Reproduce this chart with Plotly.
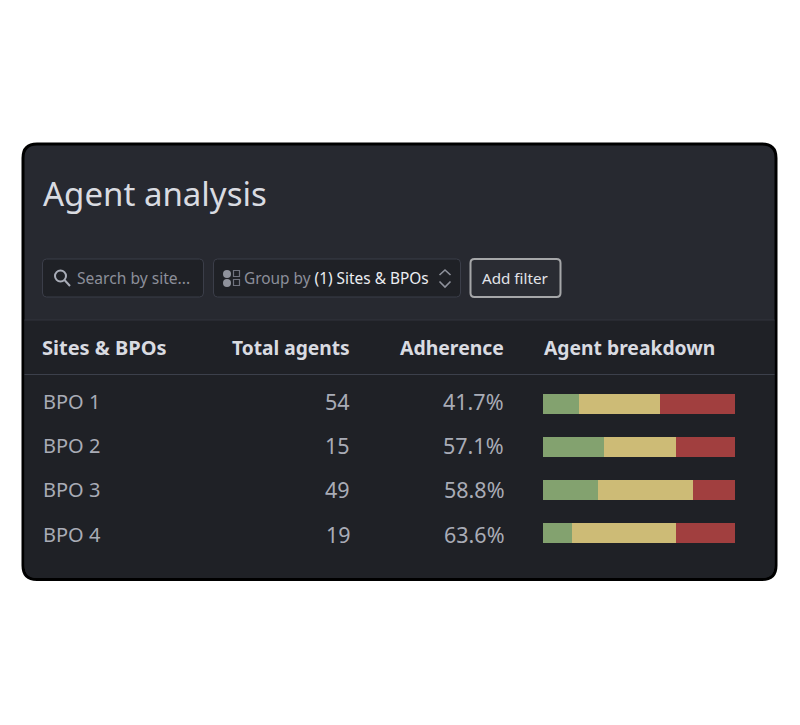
import plotly.graph_objects as go

W, H = 800, 725
FONT = "Noto Sans"

# ── Data ──────────────────────────────────────────────────────────────────────
sites = ["BPO 1", "BPO 2", "BPO 3", "BPO 4"]
total_agents = ["54", "15", "49", "19"]
adherence = ["41.7%", "57.1%", "58.8%", "63.6%"]
good = [19.0, 31.6, 28.5, 15.1]
okay = [42.0, 37.7, 49.5, 54.2]
poor = [39.0, 30.7, 22.0, 30.7]
headers = ["Sites & BPOs", "Total agents", "Adherence", "Agent breakdown"]


def px(x):
    return x / W


def py(y):
    return 1 - y / H


def rounded(x0, y0, x1, y1, tl=0, tr=0, br=0, bl=0):
    return (
        f"M {px(x0 + tl)} {py(y0)} L {px(x1 - tr)} {py(y0)} "
        f"Q {px(x1)} {py(y0)} {px(x1)} {py(y0 + tr)} L {px(x1)} {py(y1 - br)} "
        f"Q {px(x1)} {py(y1)} {px(x1 - br)} {py(y1)} L {px(x0 + bl)} {py(y1)} "
        f"Q {px(x0)} {py(y1)} {px(x0)} {py(y1 - bl)} L {px(x0)} {py(y0 + tl)} "
        f"Q {px(x0)} {py(y0)} {px(x0 + tl)} {py(y0)} Z"
    )


def box(x0, y0, x1, y1, fill, line, lw=1, r=4):
    return dict(type="path", xref="paper", yref="paper", layer="below",
                path=rounded(x0, y0, x1, y1, r, r, r, r),
                fillcolor=fill, line=dict(color=line, width=lw))


def stroke(points, color, lw=1.6):
    path = "M " + " L ".join(f"{px(a)} {py(b)}" for a, b in points)
    return dict(type="path", xref="paper", yref="paper", layer="below", path=path,
                line=dict(color=color, width=lw))


def circle(cx, cy, r, fill, line, lw=0):
    return dict(type="circle", xref="paper", yref="paper", layer="below",
                x0=px(cx - r), x1=px(cx + r), y0=py(cy + r), y1=py(cy - r),
                fillcolor=fill, line=dict(color=line, width=lw))


def label(x, y, text, size, color, anchor="left", weight=400):
    return dict(xref="paper", yref="paper", x=px(x), y=py(y), text=text, showarrow=False,
                xanchor=anchor, yanchor="middle", borderpad=0,
                font=dict(family=FONT, size=size, color=color, weight=weight))


# ── Bars ──────────────────────────────────────────────────────────────────────
fig = go.Figure()
for name, vals, colour in [("Good", good, "#83a26f"), ("Okay", okay, "#cdbb76"), ("Poor", poor, "#a13f3f")]:
    fig.add_trace(go.Bar(y=sites, x=vals, name=name, orientation="h", width=0.465,
                         marker=dict(color=colour, line=dict(width=0))))

# ── Panel chrome ──────────────────────────────────────────────────────────────
shapes = [
    dict(type="path", xref="paper", yref="paper", layer="below",
         path=rounded(23, 144, 776, 579.5, 14, 14, 14, 14),
         fillcolor="#272930", line=dict(color="#000000", width=3)),
    dict(type="path", xref="paper", yref="paper", layer="below",
         path=rounded(24.5, 320, 774.5, 578, 0, 0, 13, 13),
         fillcolor="#1f2126", line=dict(width=0)),
    stroke([(24.5, 320), (774.5, 320)], "#32353d", 1),
    stroke([(24.5, 374.5), (774.5, 374.5)], "#3c404b", 1),
    box(42.5, 259, 203.5, 297, "#1f2126", "#3b3e49"),
    box(213.5, 259, 460.5, 297, "#1f2126", "#3b3e49"),
    box(470.5, 259, 560.5, 297, "#2a2c33", "#a6a7a9", 2),
    # search icon
    circle(60.5, 276, 5.5, "rgba(0,0,0,0)", "#a9adb8", 2),
    stroke([(64.5, 280), (70, 286)], "#a9adb8", 2),
    # group by icon
    circle(227, 274, 4, "#8f929c", "#8f929c"),
    circle(227, 283, 4, "#8f929c", "#8f929c"),
    dict(type="rect", xref="paper", yref="paper", layer="below", x0=px(233.5), x1=px(239.5),
         y0=py(276.5), y1=py(270.5), line=dict(color="#6f727d", width=1.2)),
    dict(type="rect", xref="paper", yref="paper", layer="below", x0=px(233.5), x1=px(239.5),
         y0=py(285.5), y1=py(279.5), line=dict(color="#6f727d", width=1.2)),
    # select chevrons
    stroke([(439.5, 275), (445, 270), (450.5, 275)], "#8f929c", 1.6),
    stroke([(439.5, 281.5), (445, 287), (450.5, 281.5)], "#8f929c", 1.6),
]

# ── Text ──────────────────────────────────────────────────────────────────────
notes = [
    label(41.5, 193.5, "Agent analysis", 33, "#d9dbe1"),
    label(76, 278, "Search by site...", 15.6, "#8c8f9a"),
    label(243, 278, "Group by <span style='color:#eceef2'>(1) Sites &amp; BPOs</span>", 15.4, "#8c8f9a"),
    label(515, 277.5, "Add filter", 15.2, "#e2e4e9", "center"),
    label(41, 347.5, headers[0], 20, "#d9dbe1", weight=700),
    label(351, 347.5, headers[1], 19.2, "#d9dbe1", "right", 700),
    label(505, 347.5, headers[2], 19.4, "#d9dbe1", "right", 700),
    label(542.5, 347.5, headers[3], 19.3, "#d9dbe1", weight=700),
]
row_ys = [401.5, 445.5, 489.5, 534]
total_dx = [0, 0, 0, 1]
adh_dx = [0, 0, 1, 1]
for i, site in enumerate(sites):
    notes.append(label(41.5, row_ys[i], site, 20, "#a9acb6"))
    notes.append(label(351 + total_dx[i], row_ys[i], total_agents[i], 21.5, "#a9acb6", "right"))
    notes.append(label(505 + adh_dx[i], row_ys[i], adherence[i], 21.5, "#a9acb6", "right"))

fig.update_layout(
    width=W, height=H, margin=dict(l=0, r=0, t=0, b=0),
    paper_bgcolor="#ffffff", plot_bgcolor="rgba(0,0,0,0)",
    barmode="stack", showlegend=False, hovermode=False,
    xaxis=dict(domain=[px(543), px(735)], range=[0, 100], visible=False, fixedrange=True),
    yaxis=dict(domain=[py(554.5), py(382.5)], autorange="reversed", visible=False, fixedrange=True),
    shapes=shapes, annotations=notes,
)
# page default margin would push the figure 8px off
fig.write_html("out.html", config={"displayModeBar": False}, post_script="document.body.style.margin='0';")
